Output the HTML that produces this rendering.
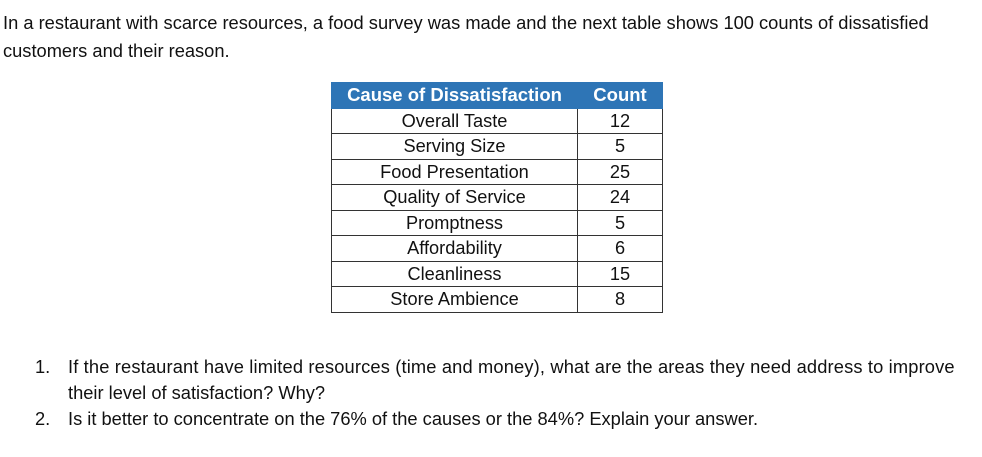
<!DOCTYPE html>
<html><head><meta charset="utf-8"><style>
body{margin:0;width:982px;height:457px;background:#fff;font-family:"Liberation Sans",sans-serif;color:#111;position:relative;overflow:hidden}
.t{position:absolute;font-size:18.3px;white-space:nowrap;line-height:20px}
table{position:absolute;left:331px;top:82px;border-collapse:collapse;font-size:18.2px}
td,th{border:1px solid #333;text-align:center;padding:0;height:24.5px;line-height:18px}
th{background:#2E75B6;color:#fff;font-weight:bold;font-size:18.5px;border-color:#2E75B6}
</style></head><body>
<div class="t" style="left:3px;top:13px">In a restaurant with scarce resources, a food survey was made and the next table shows 100 counts of dissatisfied</div>
<div class="t" style="left:3px;top:41px">customers and their reason.</div>
<table>
<tr><th style="width:245px">Cause of Dissatisfaction</th><th style="width:84px">Count</th></tr>
<tr><td>Overall Taste</td><td>12</td></tr>
<tr><td>Serving Size</td><td>5</td></tr>
<tr><td>Food Presentation</td><td>25</td></tr>
<tr><td>Quality of Service</td><td>24</td></tr>
<tr><td>Promptness</td><td>5</td></tr>
<tr><td>Affordability</td><td>6</td></tr>
<tr><td>Cleanliness</td><td>15</td></tr>
<tr><td>Store Ambience</td><td>8</td></tr>
</table>
<div class="t" style="left:35px;top:357px">1.</div>
<div class="t" style="left:68px;top:357px;letter-spacing:0.15px">If the restaurant have limited resources (time and money), what are the areas they need address to improve</div>
<div class="t" style="left:68px;top:383px">their level of satisfaction? Why?</div>
<div class="t" style="left:35px;top:409px">2.</div>
<div class="t" style="left:68px;top:409px">Is it better to concentrate on the 76% of the causes or the 84%? Explain your answer.</div>
</body></html>
